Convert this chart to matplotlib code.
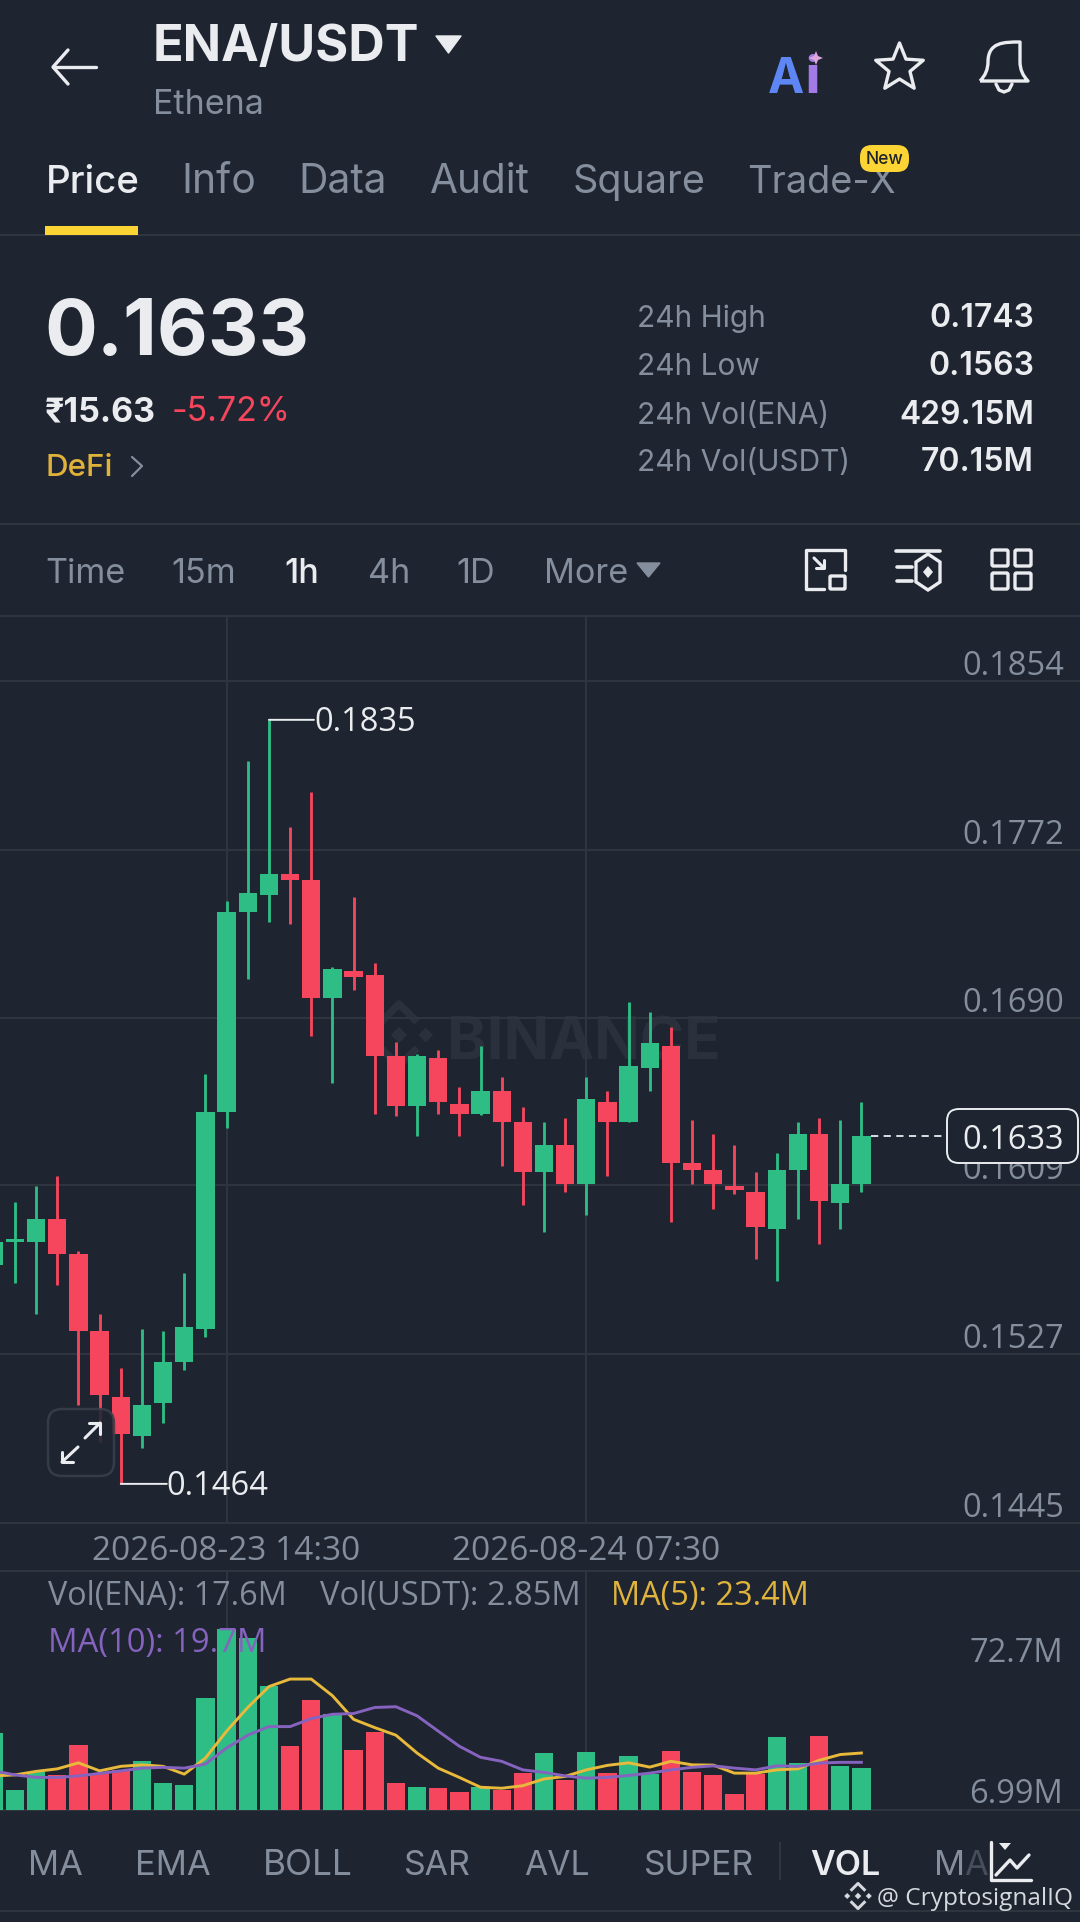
import numpy as np
import matplotlib
matplotlib.use("Agg")
import matplotlib.pyplot as plt
from matplotlib.patches import Polygon, FancyBboxPatch, Rectangle, PathPatch
from matplotlib.path import Path
from matplotlib.textpath import TextPath
from matplotlib.font_manager import FontProperties

# ---------- data ----------
candle_idx = list(range(42))
opens = [0.15703,0.15816,0.15816,0.15926,0.15756,0.15384,0.15063,0.14872,0.15032,0.15233,0.15393,0.16447,
         0.17418,0.17499,0.17601,0.17571,0.16998,0.17130,0.17109,0.16719,0.16476,0.16706,0.16486,0.16436,
         0.16548,0.16396,0.16156,0.16285,0.16096,0.16496,0.16396,0.16658,0.16768,0.16196,0.16165,0.16085,
         0.16056,0.15876,0.16165,0.16337,0.16005,0.16096]
highs = [0.15824,0.16007,0.16086,0.16135,0.15772,0.15465,0.15201,0.15393,0.15384,0.15664,0.16629,0.17470,
         0.18152,0.18350,0.17831,0.18001,0.17150,0.17490,0.17169,0.16787,0.16727,0.16747,0.16568,0.16768,
         0.16617,0.16468,0.16397,0.16418,0.16617,0.16548,0.16980,0.16930,0.16857,0.16407,0.16337,0.16285,
         0.16156,0.16245,0.16397,0.16418,0.16407,0.16496]
lows = [0.15678,0.15614,0.15465,0.15604,0.15021,0.14845,0.14640,0.14812,0.14934,0.15194,0.15354,0.16368,
        0.17090,0.17370,0.17359,0.16816,0.16585,0.17038,0.16436,0.16426,0.16329,0.16436,0.16329,0.16430,
        0.16185,0.15994,0.15864,0.16056,0.15945,0.16135,0.16396,0.16548,0.15913,0.16096,0.15975,0.16046,
        0.15732,0.15624,0.15926,0.15805,0.15876,0.16056]
closes = [0.15816,0.15829,0.15926,0.15756,0.15384,0.15071,0.14882,0.15023,0.15233,0.15403,0.16447,0.17418,
          0.17511,0.17601,0.17571,0.16998,0.17140,0.17100,0.16719,0.16476,0.16719,0.16496,0.16436,0.16548,
          0.16396,0.16156,0.16285,0.16096,0.16507,0.16396,0.16668,0.16779,0.16196,0.16165,0.16096,0.16065,
          0.15886,0.16165,0.16337,0.16015,0.16096,0.16330]
volumes = [31.5,8.7,15.7,14.7,26.4,15.4,16.7,20.4,11.6,10.8,45.1,72.7,69.0,50.2,26.1,44.5,38.8,24.5,31.9,11.6,9.8,
           9.6,7.8,9.8,8.6,15.3,23.6,12.5,23.8,15.4,22.1,15.0,24.1,15.7,14.7,6.99,15.0,29.6,19.3,30.3,18.1,17.6]
ma5 = [14.3,14.7,16.1,17.1,19.5,16.3,18.1,18.7,18.1,15.0,21.4,32.1,41.5,49.8,52.8,52.8,46.2,36.8,33.5,30.5,23.4,
       17.4,13.7,9.8,9.4,10.4,13.1,14.1,16.7,18.5,19.5,17.8,20.1,18.7,18.6,15.4,15.4,16.7,17.1,20.5,22.8,23.4]
ma10 = [16.3,14.7,13.7,13.7,14.3,15.3,16.3,17.4,17.7,17.4,19.0,25.4,30.5,33.9,33.9,37.1,38.8,39.1,41.5,41.8,38.2,
        32.1,26.1,21.7,20.1,16.7,15.7,14.3,13.4,13.7,14.5,15.4,16.7,17.7,18.3,17.4,16.7,18.3,18.1,19.4,19.7,19.7]
price_ticks = [0.1854,0.1772,0.1690,0.1609,0.1527,0.1445]
date_idx = [11,28]
date_labels = ["2026-08-23 14:30","2026-08-24 07:30"]
last_price = 0.1633
high_idx, high_val = 13, 0.1835
low_idx, low_val = 6, 0.1464
tabs = ["Price","Info","Data","Audit","Square","Trade-X"]
intervals = ["Time","15m","1h","4h","1D","More"]
stat_labels = ["24h High","24h Low","24h Vol(ENA)","24h Vol(USDT)"]
stat_values = ["0.1743","0.1563","429.15M","70.15M"]
indicators = ["MA","EMA","BOLL","SAR","AVL","SUPER"]

# ---------- style ----------
BG="#1E2430"; GRID="#30363F"; GREY="#848E9C"; WHITE="#EAECEF"
GREEN="#2EBD85"; RED="#F6465D"; YEL="#F0B90B"; PUR="#8563BE"
UI="Inter"; NUM="Open Sans"
W,H=1080,1922
fig=plt.figure(figsize=(W/100,H/100),dpi=100,facecolor=BG)

def px_axes(z):
    a=fig.add_axes([0,0,1,1],zorder=z); a.set_xlim(0,W); a.set_ylim(H,0); a.axis("off"); a.patch.set_visible(False)
    return a
ui=px_axes(0); top=px_axes(5)

def fit(s,width,fam,weight):
    fp=FontProperties(family=fam,weight=weight)
    w=TextPath((0,0),s,size=100,prop=fp).get_extents().width
    return 100*width/w*0.72

def put(a,x,y,s,width=None,size=None,color=WHITE,weight="normal",fam=UI,ha="left"):
    if width is not None: size=fit(s,width,fam,weight)
    return a.text(x,y,s,fontsize=size,color=color,fontweight=weight,family=[fam,"DejaVu Sans"],ha=ha,va="baseline")

def poly(a,pts,**k):
    k.setdefault("lw",2.2); k.setdefault("color",WHITE)
    xs,ys=zip(*pts); a.plot(xs,ys,solid_capstyle="round",solid_joinstyle="round",**k)

def rbox(a,x0,y0,x1,y1,r,**k):
    a.add_patch(FancyBboxPatch((x0,y0),x1-x0,y1-y0,boxstyle=f"round,pad=0,rounding_size={r}",**k))

def logo(a,cx,cy,r,color):
    def d(x,y,s): a.add_patch(Polygon([(x-s,y),(x,y-s),(x+s,y),(x,y+s)],fc=color,ec="none"))
    d(cx,cy,.22*r); d(cx-.72*r,cy,.2*r); d(cx+.72*r,cy,.2*r)
    lw=r*.2*0.72*1.0
    a.plot([cx-.42*r,cx,cx+.42*r],[cy-.42*r,cy-.84*r,cy-.42*r],color=color,lw=lw)
    a.plot([cx-.42*r,cx,cx+.42*r],[cy+.42*r,cy+.84*r,cy+.42*r],color=color,lw=lw)

# ---------- header ----------
poly(ui,[(96,67),(53,67)],lw=2.4); poly(ui,[(68,50),(53,67),(68,84)],lw=2.4)
put(ui,153,61,"ENA/USDT",width=261,weight="bold")
ui.add_patch(Polygon([(436,36),(461,36),(448.5,53)],fc=WHITE,ec=WHITE,lw=1,joinstyle="round"))
put(ui,153,114,"Ethena",width=105,color=GREY)
put(ui,768,93,"A",size=35,color="#5F86F5",weight="bold"); put(ui,805,93,"i",size=36,color="#A47BE6",weight="heavy")
ui.add_patch(Polygon([(816,51),(818,56),(823,58),(818,60),(816,65),(814,60),(809,58),(814,56)],fc="#E0A6DC",ec="none",zorder=4))
ang=np.deg2rad(np.arange(10)*36-90); rad=np.where(np.arange(10)%2==0,25,11)
star=list(zip(899.5+rad*np.cos(ang),68+rad*np.sin(ang)))
ui.add_patch(Polygon(star,fc="none",ec=WHITE,lw=2.4,joinstyle="round"))
bell=Path([(980,81),(988,73),(988,62),(988,42),(1004,42),(1020,42),(1020,62),(1020,73),(1028,81),(980,81)],
          [Path.MOVETO,Path.CURVE3,Path.LINETO,Path.CURVE4,Path.CURVE4,Path.CURVE4,Path.LINETO,Path.CURVE3,Path.CURVE3,Path.LINETO])
ui.add_patch(PathPatch(bell,fc="none",ec=WHITE,lw=2.4,joinstyle="round"))
ui.plot([996,999,1004,1009,1012],[84,90,92,90,84],color=WHITE,lw=2.4,solid_capstyle="round")

# tabs
tab_x=[(46,135),(181,250),(298,380),(430,528),(573,702),(747,893)]
for t,(a,b),c in zip(tabs,tab_x,[WHITE]+[GREY]*5):
    put(ui,a,193,t,width=b-a,color=c,weight="medium" if c==WHITE else "normal")
ui.add_patch(Rectangle((45,226),93,9,fc="#FCD535",ec="none",zorder=3))
rbox(ui,860,145,909,172,12,fc="#FCD535",ec="none",zorder=3)
t=put(ui,884.5,164,"New",width=36,color="#1E2329",weight="medium",ha="center"); t.set_zorder(4)
for y in (235,524,616):
    ui.plot([0,W],[y,y],color=GRID,lw=1.5)

# price block
put(ui,44,355,"0.1633",width=258,weight="bold")
put(ui,45,421,"₹15.63",size=24.5,weight="bold")
put(ui,172,421,"-5.72%",width=113,color=RED)
put(ui,45,476,"DeFi",width=63,color="#E0B23A",weight="medium")
poly(ui,[(132,457),(142,466),(132,476)],lw=1.6,color=GREY)
for lab,val,y in zip(stat_labels,stat_values,(327,375,424,471)):
    put(ui,637,y,lab,size=21.5,color=GREY)
    put(ui,1034,y,val,size=23,weight="semibold",ha="right")

# interval row
ivx=[45,171,284,368,456,544]
iv_size=fit("Time",77,UI,"normal")
for t,a in zip(intervals,ivx):
    put(ui,a,583,t,size=iv_size,color=WHITE if t=="1h" else GREY,weight="medium" if t=="1h" else "normal")
ui.add_patch(Polygon([(637,563),(660,563),(648.5,577)],fc=GREY,ec=GREY,lw=1))
poly(ui,[(824,589),(806,589),(806,550),(845,550),(845,570)],lw=2.4)
rbox(ui,830,576,845,589,1,fc="none",ec=WHITE,lw=2.4)
poly(ui,[(814,558),(824,568)],lw=2.2); poly(ui,[(824,560),(824,568),(816,568)],lw=2.2)
poly(ui,[(896,551),(940,551)],lw=2.6); poly(ui,[(897,567),(912,567)],lw=2.6); poly(ui,[(897,581),(912,581)],lw=2.6)
ui.add_patch(Polygon([(928,554),(940,562),(940,582),(928,590),(916,582),(916,562)],fc="none",ec=WHITE,lw=2.4))
ui.add_patch(Polygon([(928,566),(933,572),(928,578),(923,572)],fc=WHITE,ec="none"))
for a,b in ((992,1008),(1015,1031)):
    for c,d in ((550,566),(573,589)):
        rbox(ui,a,c,b,d,1.5,fc="none",ec=WHITE,lw=2.4)

# watermark under the chart
logo(ui,399,1035,37,"#2A303C")
put(ui,447,1059,"BINANCE",width=266,color="#2A303C",weight="bold")

# ---------- price panel ----------
px_per=20594.0
y_top,y_bot=617,1523
pa=fig.add_axes([0,1-y_bot/H,1,(y_bot-y_top)/H],zorder=2); pa.patch.set_visible(False)
pa.set_ylim(0.1445,0.1854+(680.7-y_top)/px_per)
pa.set_xlim(6.16/21.16,1086.16/21.16); pa.axis("off")
LAB=23.5
for v in price_ticks:
    pa.axhline(v,color=GRID,lw=1.4,zorder=1,clip_on=False)
    pa.annotate(f"{v:.4f}",xy=(1,v),xycoords=("axes fraction","data"),xytext=(-16*.72,6*.72),textcoords="offset points",
                ha="right",va="baseline",color=GREY,fontsize=LAB,family=NUM,annotation_clip=False,zorder=2)
for i,lab in zip(date_idx,date_labels):
    pa.axvline(i,color=GRID,lw=1.4,zorder=1)
    pa.annotate(lab,xy=(i,0),xycoords=("data","axes fraction"),xytext=(0,-37*.72),textcoords="offset points",
                ha="center",va="baseline",color=GREY,fontsize=24,family=NUM,annotation_clip=False)
cols=[GREEN if c>=o else RED for o,c in zip(opens,closes)]
pa.vlines(candle_idx,lows,highs,colors=cols,lw=2.05,zorder=3)
pa.bar(candle_idx,[abs(c-o) for o,c in zip(opens,closes)],bottom=[min(o,c) for o,c in zip(opens,closes)],
       width=0.865,color=cols,zorder=4)
for idx,val,run in ((high_idx,high_val,45),(low_idx,low_val,46)):
    pa.annotate("",xy=(idx,val),xytext=(run*.72,0),textcoords="offset points",
                arrowprops=dict(arrowstyle="-",color=WHITE,lw=1.4,shrinkA=0,shrinkB=0))
    pa.annotate(f"{val:.4f}",xy=(idx,val),xytext=(run*.72,-11*.72),textcoords="offset points",
                color=WHITE,fontsize=LAB,family=NUM,va="baseline")
pa.plot([candle_idx[-1]+.45,(947+6.16)/21.16],[last_price,last_price],color=WHITE,lw=1.3,ls=(0,(4,3)),zorder=3)

# last price tag, expand button
rbox(top,947,1109,1078,1163,12,fc=BG,ec=WHITE,lw=1.4)
put(top,1064,1149,f"{last_price:.4f}",size=LAB,fam=NUM,ha="right")
rbox(top,48,1409,114,1476,14,fc=BG,ec="#3A404C",lw=1.8,alpha=.85)
poly(top,[(62,1462),(78,1447)],lw=2.2); poly(top,[(62,1452),(62,1462),(73,1462)],lw=2.2)
poly(top,[(85,1438),(100,1423)],lw=2.2); poly(top,[(89,1423),(100,1423),(100,1434)],lw=2.2)

# ---------- volume panel ----------
v_top,v_bot=1571,1810
va=fig.add_axes([0,1-v_bot/H,1,(v_bot-v_top)/H],zorder=2); va.patch.set_visible(False)
va.set_ylim(0.75,95.75); va.set_xlim(pa.get_xlim()); va.axis("off")
ui.plot([0,W],[v_top,v_top],color=GRID,lw=1.4); ui.plot([0,W],[v_bot,v_bot],color=GRID,lw=1.4)
for i in date_idx: va.axvline(i,color=GRID,lw=1.4,zorder=1)
va.bar(candle_idx,volumes,width=0.865,color=cols,zorder=3)
va.plot(candle_idx,ma5,color="#E8B93A",lw=2.1,zorder=4,solid_joinstyle="round")
va.plot(candle_idx,ma10,color=PUR,lw=2.1,zorder=5,solid_joinstyle="round")
put(top,48,1605,"Vol(ENA): 17.6M",width=236,color=GREY,fam=NUM)
put(top,320,1605,"Vol(USDT): 2.85M",width=258,color=GREY,fam=NUM)
put(top,611,1605,"MA(5): 23.4M",width=192,color="#E0B33C",fam=NUM)
put(top,48,1652,"MA(10): 19.7M",width=212,color=PUR,fam=NUM)
put(top,1063,1662,"72.7M",size=LAB,color=GREY,fam=NUM,ha="right")
put(top,1063,1803,"6.99M",size=LAB,color=GREY,fam=NUM,ha="right")

# ---------- indicator row ----------
indx=[(28,79),(135,207),(263,348),(404,468),(524,587),(644,751)]
for t,(a,b) in zip(indicators,indx):
    put(ui,a,1875,t,width=b-a,color=GREY)
ui.plot([780,780],[1843,1879],color=GRID,lw=1.5)
put(ui,810,1875,"VOL",width=68,weight="semibold")
ma_size=fit("MA",51,UI,"normal")
put(ui,934,1875,"M",size=ma_size,color=GREY); put(ui,964,1875,"A",size=ma_size,color="#474E5A")
poly(ui,[(991,1842),(991,1880),(1031,1880)],lw=2.4)
poly(ui,[(996,1875),(1010,1860),(1017,1868),(1029,1855)],lw=2.4)
ui.add_patch(Polygon([(999,1843),(1011,1843),(1005,1850)],fc=WHITE,ec="none"))
logo(ui,858,1896,15,"#D5D8DC")
put(ui,877,1905,"@ CryptosignalIQ",width=193,color="#D5D8DC",fam=NUM)
ui.plot([0,W],[1911,1911],color=GRID,lw=1.4)

fig.savefig("out.png",dpi=100,facecolor=BG)
